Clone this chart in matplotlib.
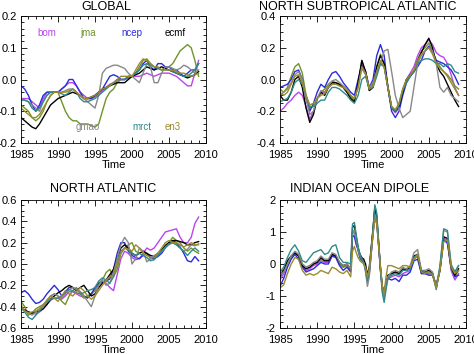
import matplotlib
matplotlib.use('Agg')
import matplotlib.pyplot as plt
from matplotlib.ticker import MultipleLocator
import numpy as np

plt.rcParams['font.family'] = ['Liberation Sans', 'DejaVu Sans']

names = ['bom', 'jma', 'ncep', 'ecmf', 'gmao', 'mrct', 'en3']
colors = {'bom': '#bb44ee', 'jma': '#6f9428', 'ncep': '#2b2bdd', 'ecmf': '#000000',
          'gmao': '#888888', 'mrct': '#2f8a8a', 'en3': '#9c8a2c'}

# half-year time axis 1985.0 .. 2009.0
years = np.arange(1985.0, 2009.01, 0.5)

# ---------------- GLOBAL ----------------
glob_bom = [-0.06, -0.06, -0.06, -0.07, -0.08, -0.09, -0.06, -0.04, -0.04, -0.04,
            -0.04, -0.03, -0.02, -0.01, -0.01, -0.02, -0.04, -0.05, -0.06, -0.06,
            -0.055, -0.045, -0.035, -0.025, -0.015, -0.01, -0.005, 0.00, 0.00, 0.005,
            0.01, 0.01, 0.01, 0.015, 0.02, 0.015, 0.01, 0.015, 0.02, 0.02,
            0.02, 0.015, 0.01, 0.00, -0.01, -0.02, -0.02, 0.02, 0.06]
glob_jma = [-0.08, -0.09, -0.10, -0.12, -0.13, -0.12, -0.10, -0.07, -0.05, -0.04,
            -0.04, -0.07, -0.10, -0.12, -0.13, -0.13, -0.14, -0.14, -0.14, -0.145,
            -0.15, -0.14, -0.10, -0.06, -0.04, -0.03, -0.01, 0.00, 0.00, 0.005,
            0.01, 0.02, 0.04, 0.06, 0.065, 0.05, 0.04, 0.035, 0.03, 0.04,
            0.04, 0.05, 0.07, 0.09, 0.10, 0.11, 0.10, 0.06, 0.01]
glob_ncep = [-0.02, -0.03, -0.05, -0.08, -0.10, -0.08, -0.05, -0.04, -0.04, -0.04,
             -0.04, -0.03, -0.02, 0.00, 0.00, -0.02, -0.04, -0.06, -0.06, -0.06,
             -0.05, -0.04, -0.03, -0.01, 0.01, 0.015, 0.01, 0.00, 0.00, 0.01,
             0.01, 0.02, 0.03, 0.05, 0.06, 0.04, 0.03, 0.05, 0.05, 0.04,
             0.04, 0.03, 0.03, 0.02, 0.01, 0.02, 0.03, 0.03, 0.05]
glob_ecmf = [-0.12, -0.13, -0.14, -0.15, -0.155, -0.14, -0.12, -0.10, -0.08, -0.07,
             -0.06, -0.055, -0.05, -0.045, -0.04, -0.045, -0.05, -0.06, -0.06, -0.055,
             -0.05, -0.04, -0.03, -0.025, -0.02, -0.015, -0.01, -0.01, -0.01, 0.00,
             0.01, 0.015, 0.02, 0.03, 0.04, 0.035, 0.03, 0.035, 0.04, 0.035,
             0.03, 0.025, 0.02, 0.015, 0.01, 0.005, 0.01, 0.015, 0.025]
glob_gmao = [-0.06, -0.065, -0.07, -0.08, -0.09, -0.10, -0.07, -0.05, -0.04, -0.04,
             -0.04, -0.04, -0.035, -0.03, -0.03, -0.04, -0.05, -0.06, -0.07, -0.08,
             -0.09, -0.05, 0.02, 0.035, 0.04, 0.045, 0.045, 0.04, 0.035, 0.02,
             0.01, 0.00, -0.01, 0.02, 0.05, 0.04, -0.01, -0.01, 0.02, 0.04,
             0.04, 0.035, 0.03, 0.035, 0.045, 0.04, 0.03, 0.02, 0.03]
glob_mrct = [-0.065, -0.065, -0.07, -0.09, -0.10, -0.09, -0.07, -0.05, -0.04, -0.04,
             -0.04, -0.045, -0.05, -0.04, -0.03, -0.04, -0.06, -0.07, -0.07, -0.065,
             -0.06, -0.05, -0.04, -0.03, -0.02, -0.01, 0.00, 0.00, 0.00, 0.01,
             0.01, 0.02, 0.03, 0.045, 0.05, 0.045, 0.04, 0.035, 0.03, 0.03,
             0.03, 0.025, 0.02, 0.015, 0.01, 0.01, 0.02, 0.03, 0.05]
glob_en3 = [-0.09, -0.10, -0.11, -0.12, -0.12, -0.11, -0.09, -0.07, -0.05, -0.04,
            -0.04, -0.04, -0.04, -0.035, -0.03, -0.04, -0.05, -0.06, -0.06, -0.055,
            -0.05, -0.04, -0.03, -0.025, -0.02, -0.01, 0.00, 0.01, 0.01, 0.01,
            0.01, 0.03, 0.05, 0.065, 0.06, 0.05, 0.04, 0.04, 0.03, 0.03,
            0.03, 0.03, 0.025, 0.02, 0.02, 0.015, 0.01, 0.015, 0.02]

# ---------------- NORTH SUBTROPICAL ATLANTIC ----------------
nsa_bom = [-0.20, -0.18, -0.15, -0.13, -0.10, -0.08, -0.10, -0.17, -0.25, -0.20,
           -0.12, -0.08, -0.08, -0.05, -0.03, -0.02, -0.03, -0.05, -0.08, -0.11,
           -0.13, -0.02, 0.10, 0.05, -0.06, -0.04, 0.04, 0.10, 0.08, -0.05,
           -0.18, -0.21, -0.18, -0.08, 0.00, 0.04, 0.08, 0.15, 0.20, 0.22,
           0.25, 0.22, 0.17, 0.15, 0.14, 0.10, 0.03, -0.05, -0.10]
nsa_jma = [-0.06, -0.08, -0.05, 0.02, 0.08, 0.10, 0.04, -0.10, -0.18, -0.17,
           -0.12, -0.08, -0.06, -0.03, -0.01, -0.02, -0.04, -0.05, -0.08, -0.11,
           -0.13, -0.03, 0.12, 0.04, -0.06, -0.03, 0.08, 0.16, 0.10, -0.04,
           -0.17, -0.20, -0.15, -0.06, 0.00, 0.02, 0.05, 0.12, 0.18, 0.20,
           0.23, 0.18, 0.12, 0.08, 0.05, 0.03, 0.00, -0.04, -0.06]
nsa_ncep = [-0.05, -0.04, -0.03, 0.00, 0.05, 0.06, 0.00, -0.12, -0.20, -0.15,
            -0.08, -0.03, -0.05, 0.00, 0.04, 0.05, 0.02, -0.02, -0.05, -0.08,
            -0.10, 0.00, 0.09, 0.05, -0.05, 0.00, 0.15, 0.22, 0.15, -0.05,
            -0.20, -0.24, -0.20, -0.10, -0.02, 0.02, 0.05, 0.08, 0.12, 0.18,
            0.21, 0.17, 0.12, 0.11, 0.10, 0.08, 0.06, 0.02, -0.03]
nsa_ecmf = [-0.10, -0.13, -0.13, -0.08, 0.00, 0.02, -0.05, -0.18, -0.27, -0.22,
            -0.12, -0.08, -0.10, -0.05, -0.02, -0.02, -0.03, -0.05, -0.08, -0.12,
            -0.14, -0.02, 0.12, 0.05, -0.07, -0.05, 0.08, 0.15, 0.10, -0.05,
            -0.18, -0.20, -0.17, -0.08, 0.00, 0.03, 0.05, 0.12, 0.17, 0.22,
            0.26, 0.20, 0.10, 0.05, 0.02, -0.03, -0.08, -0.13, -0.17]
nsa_gmao = [-0.10, -0.08, -0.06, -0.02, 0.03, 0.05, 0.00, -0.12, -0.22, -0.20,
            -0.12, -0.07, -0.08, -0.04, -0.01, 0.00, -0.02, -0.04, -0.06, -0.10,
            -0.12, -0.05, 0.07, 0.03, -0.05, -0.02, 0.05, 0.10, 0.18, 0.19,
            0.05, -0.10, -0.18, -0.24, -0.22, -0.20, -0.05, 0.10, 0.15, 0.18,
            0.20, 0.18, 0.10, -0.05, -0.08, -0.05, -0.10, -0.12, -0.14]
nsa_mrct = [-0.14, -0.13, -0.12, -0.08, -0.02, 0.00, -0.03, -0.10, -0.17, -0.17,
            -0.15, -0.13, -0.13, -0.08, -0.05, -0.05, -0.06, -0.08, -0.10, -0.13,
            -0.15, -0.10, 0.00, 0.02, -0.06, -0.05, 0.02, 0.10, 0.08, -0.05,
            -0.18, -0.20, -0.16, -0.07, -0.02, 0.02, 0.05, 0.10, 0.12, 0.13,
            0.13, 0.12, 0.10, 0.10, 0.08, 0.10, 0.09, 0.05, 0.04]
nsa_en3 = [-0.08, -0.10, -0.08, -0.03, 0.02, 0.03, -0.02, -0.10, -0.16, -0.15,
           -0.12, -0.10, -0.09, -0.05, -0.03, -0.03, -0.04, -0.05, -0.07, -0.10,
           -0.12, -0.05, 0.08, 0.04, -0.06, -0.04, 0.05, 0.12, 0.08, -0.05,
           -0.17, -0.19, -0.15, -0.06, 0.00, 0.03, 0.06, 0.12, 0.16, 0.18,
           0.20, 0.16, 0.10, 0.07, 0.05, 0.02, -0.02, -0.06, -0.10]

# ---------------- NORTH ATLANTIC ----------------
na_bom = [-0.42, -0.44, -0.45, -0.46, -0.47, -0.45, -0.42, -0.38, -0.34, -0.32,
          -0.32, -0.33, -0.30, -0.26, -0.26, -0.28, -0.30, -0.31, -0.30, -0.28,
          -0.24, -0.18, -0.16, -0.18, -0.22, -0.25, -0.10, 0.05, 0.12, 0.10,
          0.06, 0.04, 0.05, 0.10, 0.15, 0.13, 0.15, 0.20, 0.25, 0.30,
          0.31, 0.32, 0.33, 0.25, 0.20, 0.20, 0.25, 0.38, 0.44]
na_jma = [-0.35, -0.40, -0.48, -0.46, -0.42, -0.40, -0.38, -0.35, -0.30, -0.28,
          -0.30, -0.35, -0.38, -0.30, -0.25, -0.22, -0.28, -0.32, -0.30, -0.28,
          -0.25, -0.18, -0.15, -0.08, -0.05, -0.12, -0.05, 0.10, 0.15, 0.18,
          0.20, 0.12, 0.10, 0.12, 0.10, 0.05, 0.05, 0.08, 0.12, 0.18,
          0.20, 0.25, 0.22, 0.20, 0.15, 0.12, 0.15, 0.12, 0.10]
na_ncep = [-0.27, -0.25, -0.28, -0.33, -0.37, -0.36, -0.33, -0.28, -0.24, -0.20,
           -0.24, -0.30, -0.26, -0.22, -0.22, -0.24, -0.26, -0.30, -0.32, -0.28,
           -0.22, -0.18, -0.17, -0.16, -0.14, -0.05, 0.10, 0.20, 0.20, 0.12,
           0.08, 0.06, 0.05, 0.08, 0.10, 0.06, 0.05, 0.07, 0.10, 0.15,
           0.20, 0.22, 0.20, 0.16, 0.10, 0.03, 0.02, 0.07, 0.03]
na_ecmf = [-0.42, -0.43, -0.45, -0.46, -0.45, -0.44, -0.42, -0.38, -0.33, -0.30,
           -0.27, -0.25, -0.22, -0.20, -0.22, -0.25, -0.22, -0.20, -0.25, -0.30,
           -0.28, -0.22, -0.18, -0.15, -0.10, -0.05, 0.05, 0.15, 0.18, 0.15,
           0.10, 0.08, 0.10, 0.12, 0.10, 0.08, 0.07, 0.10, 0.13, 0.17,
           0.20, 0.22, 0.22, 0.21, 0.20, 0.18, 0.18, 0.20, 0.21]
na_gmao = [-0.42, -0.44, -0.46, -0.48, -0.45, -0.42, -0.38, -0.34, -0.30, -0.28,
           -0.30, -0.32, -0.28, -0.24, -0.22, -0.24, -0.26, -0.30, -0.35, -0.40,
           -0.30, -0.20, -0.15, -0.20, -0.18, -0.08, 0.05, 0.18, 0.25, 0.20,
           0.00, 0.05, 0.15, 0.12, 0.02, 0.05, 0.08, 0.10, 0.12, 0.15,
           0.18, 0.20, 0.18, 0.15, 0.12, 0.14, 0.18, 0.17, 0.19]
na_mrct = [-0.40, -0.45, -0.50, -0.52, -0.48, -0.44, -0.40, -0.36, -0.33, -0.32,
           -0.32, -0.30, -0.27, -0.24, -0.25, -0.27, -0.28, -0.27, -0.25, -0.24,
           -0.22, -0.16, -0.13, -0.15, -0.18, -0.12, 0.00, 0.12, 0.15, 0.13,
           0.10, 0.08, 0.10, 0.08, 0.06, 0.03, 0.04, 0.08, 0.12, 0.16,
           0.19, 0.20, 0.18, 0.15, 0.12, 0.08, 0.12, 0.15, 0.12]
na_en3 = [-0.38, -0.44, -0.46, -0.45, -0.44, -0.42, -0.40, -0.34, -0.30, -0.32,
          -0.35, -0.30, -0.25, -0.28, -0.30, -0.26, -0.22, -0.25, -0.30, -0.33,
          -0.30, -0.25, -0.20, -0.15, -0.12, -0.10, 0.00, 0.10, 0.15, 0.14,
          0.12, 0.18, 0.15, 0.10, 0.08, 0.06, 0.06, 0.10, 0.15, 0.20,
          0.22, 0.20, 0.20, 0.18, 0.16, 0.18, 0.20, 0.18, 0.18]

# ---------------- INDIAN OCEAN DIPOLE ----------------
# finer sampling through the 1994-1999 events
iod_years = np.concatenate([np.arange(1985.0, 1994.51, 0.5),
                            np.arange(1994.75, 1999.51, 0.25),
                            np.arange(2000.0, 2009.01, 0.5)])
iod_bom = [-0.50, -0.30, 0.00, 0.20, 0.35, 0.25, -0.05, -0.20, -0.15, -0.05,
           0.00, 0.10, 0.05, 0.05, 0.25, 0.25, 0.00, -0.10, -0.05, -0.20,
           0.95, 1.00, 0.70, 0.45, 0.25, 0.15, 0.10, -0.10, -0.45, -0.25,
           0.35, 1.00, 1.60, 1.40, 0.60, -0.15, -0.80, -1.05, -0.70, -0.45,
           -0.40, -0.35, -0.40, -0.30, -0.25, -0.20, 0.15, 0.25, -0.30, -0.30,
           -0.30, -0.35, -0.65, -0.20, 0.80, 0.75, -0.20, -0.50, -0.30]
iod_jma = [-0.30, -0.20, 0.05, 0.20, 0.35, 0.25, 0.00, -0.10, -0.05, 0.00,
           0.05, 0.15, 0.10, 0.10, 0.30, 0.25, 0.00, -0.10, -0.05, -0.20,
           1.00, 1.05, 0.75, 0.40, 0.20, 0.10, 0.05, -0.15, -0.50, -0.20,
           0.45, 1.05, 1.75, 1.40, 0.60, -0.15, -0.80, -1.00, -0.65, -0.40,
           -0.30, -0.25, -0.30, -0.20, -0.15, -0.10, 0.20, 0.25, -0.25, -0.30,
           -0.25, -0.30, -0.70, -0.20, 0.75, 0.70, -0.15, -0.40, -0.20]
iod_ncep = [-0.70, -0.45, -0.10, 0.15, 0.30, 0.15, -0.10, -0.25, -0.20, -0.15,
            -0.05, 0.05, 0.00, 0.00, 0.25, 0.20, -0.05, -0.20, -0.10, -0.25,
            0.90, 0.85, 0.60, 0.45, 0.20, 0.10, 0.05, -0.20, -0.55, -0.30,
            0.30, 0.90, 1.55, 1.30, 0.60, -0.20, -0.70, -0.85, -0.60, -0.45,
            -0.50, -0.45, -0.55, -0.35, -0.35, -0.25, 0.10, 0.15, -0.30, -0.30,
            -0.35, -0.35, -0.65, -0.20, 0.75, 0.65, -0.10, -0.40, -0.35]
iod_ecmf = [-0.40, -0.20, 0.10, 0.25, 0.35, 0.25, -0.05, -0.15, -0.10, 0.00,
            0.05, 0.20, 0.10, 0.10, 0.30, 0.25, 0.05, -0.05, 0.00, -0.15,
            1.15, 1.20, 0.85, 0.50, 0.30, 0.20, 0.15, 0.00, -0.35, -0.10,
            0.50, 1.10, 1.80, 1.50, 0.70, -0.10, -0.70, -0.95, -0.60, -0.35,
            -0.30, -0.25, -0.30, -0.15, -0.20, -0.10, 0.25, 0.30, -0.25, -0.25,
            -0.20, -0.30, -0.75, -0.15, 0.85, 0.80, -0.10, -0.35, -0.15]
iod_gmao = [-0.35, -0.25, 0.00, 0.25, 0.40, 0.30, 0.00, -0.10, -0.05, 0.05,
            0.10, 0.25, 0.15, 0.15, 0.35, 0.30, 0.05, -0.05, 0.00, -0.15,
            1.00, 1.05, 0.75, 0.45, 0.25, 0.15, 0.05, -0.25, -0.70, -0.40,
            0.30, 0.95, 1.55, 1.35, 0.65, -0.10, -0.75, -1.00, -0.60, -0.40,
            -0.25, -0.20, -0.25, -0.10, -0.15, -0.05, 0.35, 0.45, -0.20, -0.20,
            -0.15, -0.25, -0.70, -0.05, 1.05, 1.00, 0.00, -0.25, -0.05]
iod_mrct = [-0.25, -0.10, 0.20, 0.45, 0.60, 0.40, 0.10, 0.05, 0.20, 0.35,
            0.40, 0.45, 0.30, 0.35, 0.55, 0.60, 0.20, 0.05, 0.05, 0.00,
            1.25, 1.30, 0.90, 0.55, 0.30, 0.15, 0.05, -0.15, -0.50, -0.20,
            0.40, 1.05, 1.85, 1.60, 0.70, -0.20, -0.90, -1.20, -0.80, -0.45,
            -0.35, -0.30, -0.35, -0.20, -0.20, -0.15, 0.20, 0.30, -0.20, -0.25,
            -0.25, -0.30, -0.80, -0.10, 1.10, 1.05, -0.05, -0.25, -0.05]
iod_en3 = [-0.75, -0.65, -0.30, 0.00, 0.20, 0.15, -0.20, -0.35, -0.30, -0.35,
           -0.30, -0.20, -0.25, -0.30, -0.10, -0.15, -0.25, -0.30, -0.20, -0.40,
           0.40, 0.55, 0.35, 0.20, 0.10, 0.05, 0.00, -0.10, -0.40, -0.15,
           0.40, 0.95, 1.40, 1.25, 0.60, -0.10, -0.70, -0.90, -0.40, -0.05,
           -0.05, -0.10, -0.15, -0.05, -0.05, -0.10, 0.15, 0.30, -0.25, -0.30,
           -0.25, -0.35, -0.75, -0.20, 0.70, 0.75, -0.10, -0.30, -0.20]

panels = [
    ('GLOBAL', years, [glob_bom, glob_jma, glob_ncep, glob_ecmf, glob_gmao, glob_mrct, glob_en3],
     (-0.2, 0.2), 0.1, 0.02, '%.1f'),
    ('NORTH SUBTROPICAL ATLANTIC', years, [nsa_bom, nsa_jma, nsa_ncep, nsa_ecmf, nsa_gmao, nsa_mrct, nsa_en3],
     (-0.4, 0.4), 0.2, 0.05, '%.1f'),
    ('NORTH ATLANTIC', years, [na_bom, na_jma, na_ncep, na_ecmf, na_gmao, na_mrct, na_en3],
     (-0.6, 0.6), 0.2, 0.05, '%.1f'),
    ('INDIAN OCEAN DIPOLE', iod_years, [iod_bom, iod_jma, iod_ncep, iod_ecmf, iod_gmao, iod_mrct, iod_en3],
     (-2, 2), 1, 0.2, '%d'),
]

# axes positions in pixels (left, top, right, bottom) of the 474x354 figure
W, H = 474, 354
boxes = [(21, 16, 206, 143), (280, 16, 466, 143), (21, 200, 206, 328), (280, 200, 466, 328)]
# title centres in pixels (the originals sit a little left of the axes centre)
title_pos = [(106, 7), (358, 7), (103, 189), (360, 189)]

fig = plt.figure(figsize=(4.74, 3.54), dpi=100)
for (title, t, series, ylim, major, minor, fmt), (l, tp, r, b), (tx, ty) in zip(panels, boxes, title_pos):
    ax = fig.add_axes([l / W, 1 - b / H, (r - l) / W, (b - tp) / H])
    for name, vals in zip(names, series):
        ax.plot(t, vals, color=colors[name], lw=1.0)
    ax.set_xlim(1985, 2010)
    ax.set_ylim(*ylim)
    ax.xaxis.set_major_locator(MultipleLocator(5))
    ax.xaxis.set_minor_locator(MultipleLocator(1))
    ax.yaxis.set_major_locator(MultipleLocator(major))
    ax.yaxis.set_minor_locator(MultipleLocator(minor))
    ax.yaxis.set_major_formatter(plt.FormatStrFormatter(fmt))
    ax.tick_params(which='both', direction='in', top=True, right=True, labelsize=8,
                   width=0.6)
    ax.tick_params(axis='x', pad=5)
    ax.tick_params(axis='y', pad=3)
    ax.tick_params(which='major', length=4)
    ax.tick_params(which='minor', length=2)
    for sp in ax.spines.values():
        sp.set_linewidth(0.6)
    fig.text(tx / W, 1 - ty / H, title, fontsize=9, ha='center', va='center')
    ax.set_xlabel('Time', fontsize=8, labelpad=0)
    if title == 'GLOBAL':
        for name, x, y in [('bom', 1988.5, 0.147), ('jma', 1994.0, 0.147),
                           ('ncep', 2000.0, 0.147), ('ecmf', 2005.9, 0.147),
                           ('gmao', 1994.0, -0.15), ('mrct', 2001.3, -0.15),
                           ('en3', 2005.5, -0.15)]:
            ax.text(x, y, name, color=colors[name], fontsize=7, ha='center', va='center')

fig.savefig('out.png', dpi=100)
